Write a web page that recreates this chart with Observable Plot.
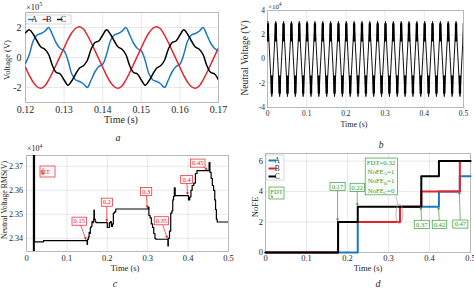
<!DOCTYPE html>
<html>
<head>
<meta charset="utf-8">
<script src="https://cdn.jsdelivr.net/npm/d3@7"></script>
<script src="https://cdn.jsdelivr.net/npm/@observablehq/plot@0.6"></script>
<style>
  html, body { margin: 0; padding: 0; background: #fff; }
  #fig { position: relative; width: 474px; height: 289px; overflow: hidden; background: #fff; }
  #fig svg { position: absolute; overflow: visible; }
  #fig svg, #fig svg text { font-family: "Liberation Serif", "Times New Roman", serif !important; }
</style>
</head>
<body>
<div id="fig"></div>
<script>
const SERIF = '"Liberation Serif", "Times New Roman", serif';

// (a) phase voltages in units of 1e5 V, one sample per millisecond from 0.12 s
const phaseNames = ["A", "B", "C"];
const phaseColors = ["#1b79c0", "#e3232c", "#000000"];
const voltStart = 0.12;
const voltStep = 0.001;
const voltA = [-0.4, 0.2, 1.1, 1.5, 1.6, 1.75, 2.0, 1.5, 0.95, 0.6, 0.45, -0.2, -1.1, -1.5, -1.6, -1.75, -2.0, -1.5, -0.95, -0.6,
               -0.45, 0.2, 1.1, 1.5, 1.6, 1.75, 2.0, 1.5, 0.95, 0.6, 0.45, -0.2, -1.1, -1.5, -1.6, -1.75, -2.0, -1.5, -0.95, -0.6,
               -0.45, 0.2, 1.1, 1.5, 1.6, 1.75, 2.0, 1.5, 0.95, 0.6, 0.45];
const voltB = [-0.65, -1.2, -1.65, -1.95, -2.05, -1.9, -1.5, -1.0, -0.45, 0.1, 0.65, 1.2, 1.65, 1.95, 2.05, 1.9, 1.5, 1.0, 0.45, -0.1,
               -0.65, -1.2, -1.65, -1.95, -2.05, -1.9, -1.5, -1.0, -0.45, 0.1, 0.65, 1.2, 1.65, 1.95, 2.05, 1.9, 1.5, 1.0, 0.45, -0.1,
               -0.65, -1.2, -1.65, -1.95, -2.05, -1.9, -1.5, -1.0, -0.45, 0.1, 0.65];
const voltC = [1.65, 1.85, 1.55, 1.1, 0.7, 0.55, 0.2, -0.55, -1.0, -1.1, -1.5, -1.85, -1.55, -1.1, -0.7, -0.55, -0.2, 0.55, 1.0, 1.1,
               1.5, 1.85, 1.55, 1.1, 0.7, 0.55, 0.2, -0.55, -1.0, -1.1, -1.5, -1.85, -1.55, -1.1, -0.7, -0.55, -0.2, 0.55, 1.0, 1.1,
               1.5, 1.85, 1.55, 1.1, 0.7, 0.55, 0.2, -0.55, -1.0, -1.1, -1.5];
const voltTicksX = [0.12, 0.13, 0.14, 0.15, 0.16, 0.17];
const voltTicksY = [-2, 0, 2];

// (b) neutral voltage in units of 1e4 V: turning points of the 50 Hz wave
const neutralPeakTimes = [0.001, 0.021, 0.041, 0.061, 0.081, 0.101, 0.121, 0.141, 0.161, 0.181, 0.201, 0.221, 0.241,
                          0.261, 0.281, 0.301, 0.321, 0.341, 0.361, 0.381, 0.401, 0.421, 0.441, 0.461, 0.481, 0.501];
const neutralTroughTimes = [0.011, 0.031, 0.051, 0.071, 0.091, 0.111, 0.131, 0.151, 0.171, 0.191, 0.211, 0.231, 0.251,
                            0.271, 0.291, 0.311, 0.331, 0.351, 0.371, 0.391, 0.411, 0.431, 0.451, 0.471, 0.491];
const neutralPeak = 3.1;
const neutralTrough = -3.1;
const neutralRipple = [1.4, 2.9];   // magnitude range covered by the dense switching ripple
const neutralTicksY = [-4, -2, 0, 2, 4];
const timeTicks = [0, 0.1, 0.2, 0.3, 0.4, 0.5];

// (c) neutral voltage RMS in units of 1e4 V
const rmsTimes = [0.017, 0.0172, 0.0178, 0.0182, 0.0188, 0.0192, 0.0198, 0.040, 0.042, 0.149, 0.150, 0.151, 0.153, 0.155,
                  0.157, 0.158, 0.160, 0.162, 0.164, 0.166, 0.167, 0.168, 0.170, 0.172, 0.199, 0.200, 0.203, 0.205, 0.208,
                  0.210, 0.213, 0.215, 0.218, 0.221, 0.299, 0.301, 0.303, 0.306, 0.309, 0.312, 0.315, 0.318, 0.320, 0.348,
                  0.350, 0.351, 0.354, 0.357, 0.360, 0.362, 0.364, 0.366, 0.368, 0.399, 0.401, 0.404, 0.407, 0.410, 0.414,
                  0.418, 0.422, 0.450, 0.452, 0.454, 0.457, 0.460, 0.463, 0.466, 0.468, 0.470, 0.472, 0.500];
const rmsValues = [2.330, 2.380, 2.330, 2.380, 2.330, 2.380, 2.3385, 2.3385, 2.3390, 2.3390, 2.3375, 2.3395, 2.3405, 2.3425,
                   2.3420, 2.3445, 2.3450, 2.3470, 2.3465, 2.3480, 2.3518, 2.3480, 2.3470, 2.3465, 2.3465, 2.3445, 2.3445,
                   2.3465, 2.3470, 2.3450, 2.3460, 2.3505, 2.3510, 2.3522, 2.3522, 2.3530, 2.3495, 2.3485, 2.3460, 2.3445,
                   2.3420, 2.3400, 2.3396, 2.3396, 2.3368, 2.3400, 2.3430, 2.3505, 2.3515, 2.3560, 2.3575, 2.3610, 2.3578,
                   2.3578, 2.3560, 2.3572, 2.3600, 2.3620, 2.3630, 2.3670, 2.3682, 2.3682, 2.3715, 2.3675, 2.3650, 2.3620,
                   2.3600, 2.3560, 2.3520, 2.3480, 2.3468, 2.3468];
const rmsTicksY = [2.34, 2.35, 2.36, 2.37];
const fitTimes = [0.149, 0.2, 0.3, 0.35, 0.4, 0.45];
const fitValues = [2.339, 2.3465, 2.3522, 2.3396, 2.3578, 2.3682];
const fitLabels = ["0.15", "0.2", "0.3", "0.35", "0.4", "0.45"];

// (d) number of fault events per phase, as a step function of time
const nofeTimes = [0, 0.177, 0.225, 0.328, 0.38, 0.423, 0.474, 0.5];
const nofeA = [0, 0, 2, 3, 3, 4, 5, 5];
const nofeB = [0, 2, 2, 3, 4, 4, 6, 6];
const nofeC = [0, 2, 3, 3, 5, 6, 6, 6];
const nofeTicksY = [0, 2, 4, 6];
const fdtTimes = [0.177, 0.225, 0.38, 0.423, 0.474];
const fdtValues = [2, 3, 3, 3, 4];
const fdtLabels = ["0.17", "0.22", "0.37", "0.42", "0.47"];
const fdtNoteTime = 0.328;
const fdtNoteValue = 2.5;
const fdtNoteLines = [["FDT=0.32"], ["NoFE", "A", "=1"], ["NoFE", "B", "=1"], ["NoFE", "C", "=0"]];

// label box offsets from their targets, in pixels
const fitOffsets = [[-7, -19], [0, -20], [-1, -17], [-6, -18], [-1, -15.5], [-10, -7]];
const fdtOffsets = [[0, -35], [0, -19], [1, 18], [1, 18], [1, 33]];
const fdtNoteOffset = [-18.5, -37.5];

const RED = "#e3232c";
const GREEN = "#3f9a3f";
const INK = "#262626";
const fig = document.getElementById("fig");

function mount(svg, left, top) {
  svg.style.position = "absolute";
  svg.style.left = left + "px";
  svg.style.top = top + "px";
  fig.appendChild(svg);
  return svg;
}

function baseStyle(size) {
  return {fontFamily: SERIF, fontSize: size + "px", color: INK, background: "transparent"};
}

// boxed label with an arrow pointing at a data point
function arrowBox(g, px, py, cx, cy, label, color, fill, size) {
  const text = g.append("text").attr("x", cx).attr("y", cy).attr("dy", "0.35em")
    .attr("text-anchor", "middle").attr("fill", color).attr("font-size", size).text(label);
  const bb = text.node().getBBox();
  const w = bb.width + 3, h = size + 1.6;
  g.insert("rect", () => text.node()).attr("x", cx - w / 2).attr("y", cy - h / 2)
    .attr("width", w).attr("height", h).attr("fill", fill).attr("stroke", color).attr("stroke-width", 0.7);
  const vx = px - cx, vy = py - cy;
  const s = Math.min(vx ? (w / 2) / Math.abs(vx) : Infinity, vy ? (h / 2) / Math.abs(vy) : Infinity);
  const sx = cx + vx * s, sy = cy + vy * s;
  const len = Math.hypot(px - sx, py - sy) || 1;
  const ux = (px - sx) / len, uy = (py - sy) / len;
  g.append("line").attr("x1", sx).attr("y1", sy).attr("x2", px - ux * 2).attr("y2", py - uy * 2)
    .attr("stroke", color).attr("stroke-width", 0.7);
  const bx = px - ux * 3, by = py - uy * 3;
  g.append("path").attr("d", `M${px},${py}L${bx - uy * 1.4},${by + ux * 1.4}L${bx + uy * 1.4},${by - ux * 1.4}Z`)
    .attr("fill", color);
}

// ---------- (a) ----------
const voltRows = [voltA, voltB, voltC].flatMap((series, k) =>
  series.map((v, i) => ({t: voltStart + i * voltStep, v, phase: phaseNames[k]})));

const plotA = Plot.plot({
  width: 237, height: 140,
  marginLeft: 25, marginRight: 19, marginTop: 12, marginBottom: 38,
  style: baseStyle(10),
  x: {domain: [0.12, 0.17], ticks: voltTicksX, tickFormat: d3.format(".2f"), tickSize: 0, tickPadding: 3, label: null, grid: true},
  y: {domain: [-3, 3], ticks: voltTicksY, tickFormat: d => String(d), tickSize: 0, tickPadding: 4, label: null, grid: true},
  color: {domain: phaseNames, range: phaseColors},
  marks: [
    Plot.frame({stroke: "#b8b8b8"}),
    Plot.line(voltRows, {x: "t", y: "v", z: "phase", stroke: "phase", strokeWidth: 1.5, curve: "catmull-rom", clip: true})
  ]
});
mount(plotA, 0, 0);
{
  const g = d3.select(plotA).append("g");
  g.append("rect").attr("x", 26).attr("y", 15).attr("width", 45).attr("height", 9)
    .attr("fill", "#fff").attr("stroke", "#bdbdbd").attr("stroke-width", 0.6);
  phaseNames.forEach((p, i) => {
    const x0 = 28 + i * 14.5;
    g.append("line").attr("x1", x0).attr("x2", x0 + 5.5).attr("y1", 19.5).attr("y2", 19.5)
      .attr("stroke", phaseColors[i]).attr("stroke-width", 1.4);
    g.append("text").attr("x", x0 + 6.3).attr("y", 19.5).attr("dy", "0.35em").attr("font-size", 8.5)
      .attr("fill", INK).text(p);
  });
}

// ---------- (b) ----------
const neutralVerts = neutralPeakTimes.map(t => ({t, v: neutralPeak}))
  .concat(neutralTroughTimes.map(t => ({t, v: neutralTrough})))
  .sort((a, b) => a.t - b.t);
const neutralRipples = neutralPeakTimes.map(t => ({t, y1: neutralRipple[0], y2: neutralRipple[1]}))
  .concat(neutralTroughTimes.map(t => ({t, y1: -neutralRipple[0], y2: -neutralRipple[1]})));

const plotB = Plot.plot({
  width: 237, height: 150,
  marginLeft: 30, marginRight: 11, marginTop: 10, marginBottom: 43,
  style: baseStyle(7.5),
  x: {domain: [0, 0.5], ticks: timeTicks, tickFormat: d => String(d), tickSize: 0, tickPadding: 3, label: null, grid: true},
  y: {domain: [-4, 4], ticks: neutralTicksY, tickFormat: d => String(d), tickSize: 0, tickPadding: 2.5, label: null, grid: true},
  marks: [
    Plot.frame({stroke: "#b8b8b8"}),
    Plot.line(neutralVerts, {x: "t", y: "v", stroke: "#111", strokeWidth: 1, clip: true}),
    Plot.ruleX(neutralRipples, {x: "t", y1: "y1", y2: "y2", stroke: "#000", strokeWidth: 2.4, clip: true})
  ]
});
mount(plotB, 237, 0);

// ---------- (c) ----------
const rmsRows = rmsTimes.map((t, i) => ({t, v: rmsValues[i]}));
const plotC = Plot.plot({
  width: 237, height: 149,
  marginLeft: 26, marginRight: 9, marginTop: 15, marginBottom: 38,
  style: baseStyle(8.5),
  x: {domain: [0, 0.5], ticks: timeTicks, tickFormat: d => String(d), tickSize: 0, tickPadding: 3, label: null, grid: true},
  y: {domain: [2.3345, 2.3745]},
  marks: [
    Plot.frame({stroke: "#b8b8b8"}),
    Plot.gridY(rmsTicksY),
    Plot.axisY({ticks: rmsTicksY, tickFormat: d3.format(".2f"), tickSize: 0, tickPadding: 3.5, fontSize: 8, label: null}),
    Plot.line(rmsRows, {x: "t", y: "v", stroke: "#000", strokeWidth: 1.2, curve: "step-after", clip: true})
  ]
});
mount(plotC, 0, 140);
{
  const x = plotC.scale("x"), y = plotC.scale("y");
  const g = d3.select(plotC).append("g");
  fitTimes.forEach((t, i) => {
    const px = x.apply(t), py = y.apply(fitValues[i]);
    arrowBox(g, px, py, px + fitOffsets[i][0], py + fitOffsets[i][1], fitLabels[i], RED, "#fff7f7", 6.5);
  });
  // key for the arrow labels
  g.append("rect").attr("x", 40).attr("y", 26).attr("width", 15).attr("height", 11)
    .attr("fill", "#fff7f7").attr("stroke", RED).attr("stroke-width", 0.7);
  g.append("line").attr("x1", 43).attr("x2", 43).attr("y1", 28).attr("y2", 33.5).attr("stroke", RED).attr("stroke-width", 0.7);
  g.append("path").attr("d", "M43,35.5L41.8,32.8L44.2,32.8Z").attr("fill", RED);
  g.append("text").attr("x", 45).attr("y", 31.5).attr("dy", "0.35em").attr("font-size", 6.5).attr("fill", RED).text("FIT");
}

// ---------- (d) ----------
const nofeRows = [nofeA, nofeB, nofeC].flatMap((series, k) =>
  series.map((v, i) => ({t: nofeTimes[i], v, phase: phaseNames[k]})));
const plotD = Plot.plot({
  width: 237, height: 149,
  marginLeft: 28, marginRight: 4, marginTop: 13, marginBottom: 37,
  style: baseStyle(8.5),
  x: {domain: [0, 0.5], ticks: timeTicks, tickFormat: d => String(d), tickSize: 0, tickPadding: 2.5, label: null, grid: true},
  y: {domain: [0, 6.5], ticks: nofeTicksY, tickFormat: d => String(d), tickSize: 0, tickPadding: 2.5, label: null, grid: true},
  color: {domain: phaseNames, range: phaseColors},
  marks: [
    Plot.frame({stroke: "#b8b8b8"}),
    Plot.line(nofeRows, {x: "t", y: "v", z: "phase", stroke: "phase", strokeWidth: 2, curve: "step-after"})
  ]
});
mount(plotD, 237, 140);
{
  const x = plotD.scale("x"), y = plotD.scale("y");
  const g = d3.select(plotD).append("g");
  fdtTimes.forEach((t, i) => {
    const px = x.apply(t), py = y.apply(fdtValues[i]);
    arrowBox(g, px, py, px + fdtOffsets[i][0], py + fdtOffsets[i][1], fdtLabels[i], GREEN, "#f6fcf6", 6.5);
  });
  // summary note at the fault detection time
  const ex = x.apply(fdtNoteTime), ey = y.apply(fdtNoteValue);
  g.append("ellipse").attr("cx", ex).attr("cy", ey).attr("rx", 3.5).attr("ry", 9.5)
    .attr("fill", "none").attr("stroke", "#9a9a9a").attr("stroke-width", 0.7);
  const nx = ex + fdtNoteOffset[0], ny = ey + fdtNoteOffset[1];
  const note = g.append("g");
  const box = note.append("rect").attr("fill", "#f6fcf6").attr("stroke", GREEN).attr("stroke-width", 0.7);
  const lineH = 9.2;
  fdtNoteLines.forEach((parts, i) => {
    const tx = note.append("text").attr("x", nx).attr("y", ny + (i - 1.5) * lineH).attr("dy", "0.35em")
      .attr("text-anchor", "middle").attr("font-size", 6.8).attr("fill", GREEN);
    tx.append("tspan").text(parts[0]);
    if (parts.length > 1) {
      tx.append("tspan").attr("font-size", 4.8).attr("dy", "0.25em").text(parts[1]);
      tx.append("tspan").attr("dy", "-0.18em").text(parts[2]);
    }
  });
  const nb = note.node().getBBox();
  box.attr("x", nb.x - 1.5).attr("y", ny - 2 * lineH).attr("width", nb.width + 3).attr("height", 4 * lineH);
  g.append("line").attr("x1", nb.x + nb.width).attr("y1", ny + 2 * lineH)
    .attr("x2", ex - 1.5).attr("y2", ey - 8.5).attr("stroke", "#9a9a9a").attr("stroke-width", 0.6);

  // legend
  g.append("rect").attr("x", 29).attr("y", 15).attr("width", 18).attr("height", 25)
    .attr("fill", "#fff").attr("stroke", "#bdbdbd").attr("stroke-width", 0.6);
  phaseNames.forEach((p, i) => {
    const yy = 20.5 + i * 8;
    g.append("line").attr("x1", 31.5).attr("x2", 39).attr("y1", yy).attr("y2", yy)
      .attr("stroke", phaseColors[i]).attr("stroke-width", 2);
    g.append("text").attr("x", 40.3).attr("y", yy).attr("dy", "0.35em").attr("font-size", 7.5)
      .attr("fill", INK).text(p);
  });
  // key for the detection labels
  g.append("rect").attr("x", 32).attr("y", 47).attr("width", 15).attr("height", 12)
    .attr("fill", "#f6fcf6").attr("stroke", GREEN).attr("stroke-width", 0.7);
  g.append("text").attr("x", 39.5).attr("y", 51.5).attr("dy", "0.35em").attr("text-anchor", "middle")
    .attr("font-size", 6.5).attr("fill", GREEN).text("FDT");
  g.append("path").attr("d", "M33.5,55L35.5,57.3M35.5,57.3L34.2,57.4M35.5,57.3L35.6,56").attr("stroke", GREEN).attr("stroke-width", 0.7);
}

// ---------- titles, exponents and panel letters ----------
const over = d3.select(fig).append("svg")
  .attr("width", 474).attr("height", 289).style("left", "0px").style("top", "0px")
  .attr("fill", INK);

function exponent(base, power, x, y, size) {
  const t = over.append("text").attr("x", x).attr("y", y).attr("font-size", size);
  t.append("tspan").text(base);
  t.append("tspan").attr("font-size", size * 0.72).attr("dy", "-0.55em").text(power);
}
function title(text, x, y, size, rotate, italic) {
  over.append("text")
    .attr("transform", `translate(${x},${y})` + (rotate ? " rotate(-90)" : ""))
    .attr("text-anchor", "middle").attr("dy", "0.35em").attr("font-size", size)
    .attr("font-style", italic ? "italic" : null).text(text);
}

exponent("×10", "5", 26, 9.5, 8.5);
title("Voltage (V)", 7, 60, 8.5, true);
title("Time (s)", 121, 119, 10);
title("a", 118, 137, 10, false, true);

exponent("×10", "4", 268, 8.5, 7);
title("Neutral Voltage (V)", 245, 58, 9.5, true);
title("Time (s)", 354, 124, 8);
title("b", 381, 145, 9.5, false, true);

exponent("×10", "4", 27, 151, 8);
title("Neutral Voltage RMS(V)", 4, 200, 7.8, true);
title("Time (s)", 125, 268, 8.5);
title("c", 115, 283, 10, false, true);

title("NoFE", 255, 207, 8.5, true);
title("Time (s)", 368, 268, 8.5);
title("d", 378, 283, 10, false, true);
</script>
</body>
</html>
